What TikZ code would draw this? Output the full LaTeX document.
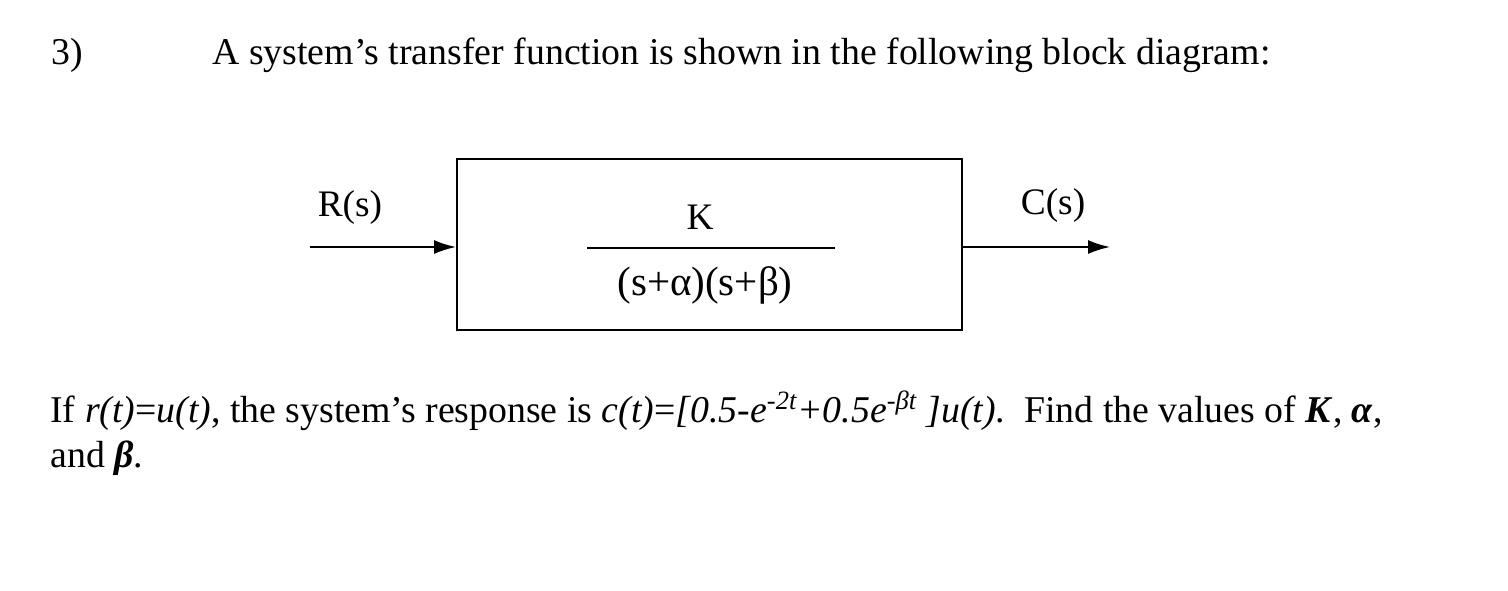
\documentclass[tikz,border=0pt]{standalone}
\usepackage{fontspec}
\usetikzlibrary{arrows.meta}
\setmainfont{Liberation Serif}
\begin{document}
\begin{tikzpicture}[x=0.5pt,y=-0.5pt,
  txt/.style={inner sep=0pt,font=\fontsize{18.9}{22}\selectfont},
  lbl/.style={inner sep=0pt,font=\fontsize{18.7}{22}\selectfont},
  sig/.style={line width=1pt,-{Latex[length=11pt,width=7pt]}}]
\useasboundingbox (0,0) rectangle (1508,590);
\node[txt,anchor=west] (num) at (51,55) {3)};
\node[txt,anchor=west] (title) at (212,55) {A system’s transfer function is shown in the following block diagram:};
\node[draw,line width=1pt,minimum width=252.5pt,minimum height=85.5pt,inner sep=0pt] (box) at (709.5,244.5) {};
\node[lbl] (K) at (700,217) {K};
\coordinate (fl) at (587,248); \coordinate (fr) at (835,248);
\draw[line width=0.8pt] (fl) -- (fr);
\node[lbl,font=\fontsize{20.5}{24}\selectfont] (den) at (705,285) {(s+α)(s+β)};
\coordinate (in) at (310,247); \coordinate (out) at (1110,247);
\draw[sig] (in) -- (box.west |- in);
\draw[sig] (box.east |- out) -- (out);
\node[lbl] (R) at (350,207) {R(s)};
\node[lbl] (C) at (1053,205) {C(s)};
\node[txt,anchor=west] (l1) at (50,411) {If \textit{r(t)}=\textit{u(t)}, the system’s response is \textit{c(t)}=\textit{[0.5-e\textsuperscript{-2t}+0.5e\textsuperscript{-βt} ]u(t)}.\ \ Find the values of \textbf{\textit{K}}, \textbf{\textit{α}},};
\node[txt,anchor=west] (l2) at (50,458) {and \textbf{\textit{β}}.};
\end{tikzpicture}
\end{document}
